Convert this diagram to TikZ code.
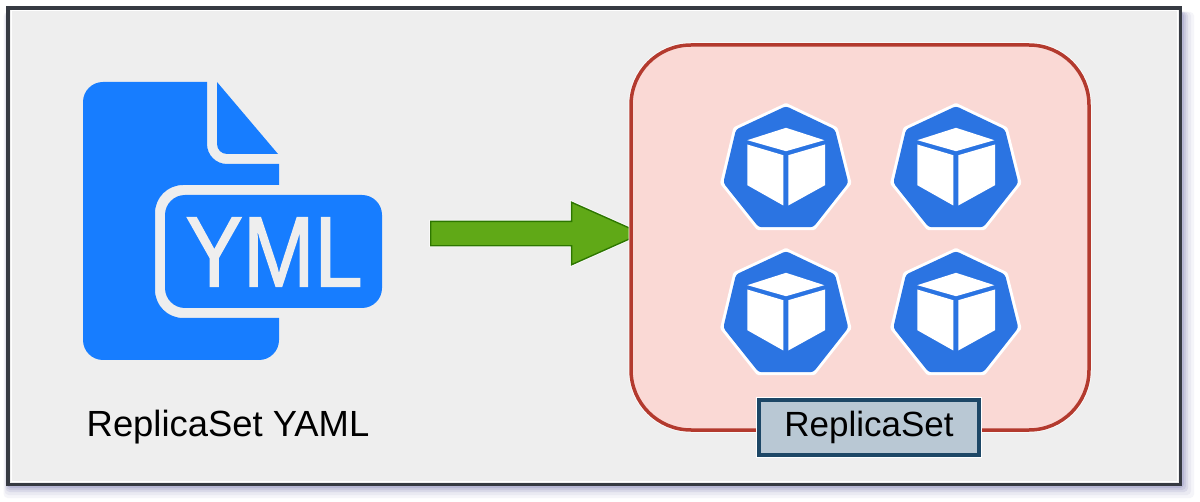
\documentclass[tikz,border=0pt]{standalone}
\usepackage{fontspec}
\setmainfont{Liberation Sans}
\newfontfamily\ymlfont[FakeBold=1.6]{Liberation Sans}
\usetikzlibrary{positioning}
\usetikzlibrary{shapes.arrows}
\definecolor{panelgray}{HTML}{EEEEEE}
\definecolor{framedark}{HTML}{363A42}
\definecolor{fileblue}{HTML}{177DFF}
\definecolor{podblue}{HTML}{2B74E2}
\definecolor{setpink}{HTML}{FAD9D5}
\definecolor{setred}{HTML}{B33A2E}
\definecolor{tagfill}{HTML}{B9C8D4}
\definecolor{tagdraw}{HTML}{1D4766}
\definecolor{arrowfill}{HTML}{60A917}
\definecolor{arrowdraw}{HTML}{2D7600}
\definecolor{shadowtint}{HTML}{7C7CB0}
\tikzset{
x=0.5pt,y=-0.5pt,
halo/.style={preaction={draw=white,line width=#1}},
panel/.style={draw=framedark,fill=panelgray,line width=1.9pt},
replica box/.style={halo=2.5pt,draw=setred,fill=setpink,line width=1.75pt,rounded corners=30pt},
yml text/.style={text=panelgray,font=\ymlfont\fontsize{50}{50}\selectfont,inner sep=0pt,xscale=0.86},
caption text/.style={font=\fontsize{18.2}{20}\selectfont,inner sep=0pt,text=black},
flow arrow/.style={single arrow,halo=1.4pt,draw=arrowdraw,fill=arrowfill,line width=0.7pt,inner sep=0pt,
  minimum height=105.5pt,minimum width=30.5pt,single arrow head extend=9.5pt,text height=11.5pt,text depth=0pt,
  single arrow tip angle=48,single arrow head indent=0pt,anchor=west},
set tag/.style={halo=2.6pt,draw=tagdraw,fill=tagfill,line width=1.9pt,minimum width=110pt,minimum height=27.5pt,
  inner sep=0pt,font=\fontsize{17.5}{20}\selectfont},
pics/pod/.style={code={
  \path[draw=white,fill=white,line width=3pt,line join=round]
    (0,-63.3) -- (49,-40) -- (62.3,13.3) -- (27.3,57.7) -- (-27.3,57.7) -- (-62.7,13.3) -- (-50,-40) -- cycle;
  \fill[podblue,rounded corners=1.5pt]
    (0,-63.3) -- (49,-40) -- (62.3,13.3) -- (27.3,57.7) -- (-27.3,57.7) -- (-62.7,13.3) -- (-50,-40) -- cycle;
  \fill[white] (0,-41.7) -- (38.3,-29.3) -- (0,-18.3) -- (-38.7,-29.3) -- cycle;
  \fill[white] (-38.7,-25) -- (-2.7,-14.3) -- (-2.7,36) -- (-38.7,15.7) -- cycle;
  \fill[white] (2.3,-14.3) -- (39,-25) -- (39,15.7) -- (2.3,36) -- cycle;
}},
}
\begin{document}
\begin{tikzpicture}
\useasboundingbox (0,0) rectangle (1200,502);
\fill[white] (0,0) rectangle (1200,502);
% shadow of the frame
\foreach \off/\amt in {13/8,10/16,7/28,5/40,3/55}
  \fill[shadowtint!\amt!white,rounded corners=2pt] (8-\off/3,12) rectangle (1181+\off,485+\off);
\path[panel] (8,8) rectangle (1180.5,484.5);
\path[draw=white,line width=0.5pt] (11,11) rectangle (1177.5,481.5);
% file icon
\path[fill=fileblue]
  (103,82) -- (207,82) -- (207,144) arc[start angle=180,end angle=90,radius=20] -- (279,164) -- (279,185)
  -- (183,185) arc[start angle=270,end angle=180,radius=28] -- (155,290) arc[start angle=180,end angle=90,radius=28]
  -- (279,318) -- (279,340) arc[start angle=0,end angle=90,radius=20] -- (103,360) arc[start angle=90,end angle=180,radius=20]
  -- (83,102) arc[start angle=180,end angle=270,radius=20] -- cycle;
\path[fill=fileblue] (217,82) -- (278,154) -- (227,154) arc[start angle=90,end angle=180,radius=10] -- cycle;
\path[fill=fileblue,rounded corners=10pt] (165,195) rectangle (382,308);
\node[yml text] (ymltext) at (274,252) {YML};
\node[caption text] (yamllabel) at (228,427) {ReplicaSet YAML};
% arrow goes under the box
\node[flow arrow] (flow) at (430,233.5) {};
\path[replica box] (631,45) rectangle (1089,430);
\pic at (786,169.5) {pod};
\pic at (956,169.5) {pod};
\pic at (786,314.5) {pod};
\pic at (956,314.5) {pod};
\node[set tag] (settag) at (869,427.5) {ReplicaSet};
\end{tikzpicture}
\end{document}
